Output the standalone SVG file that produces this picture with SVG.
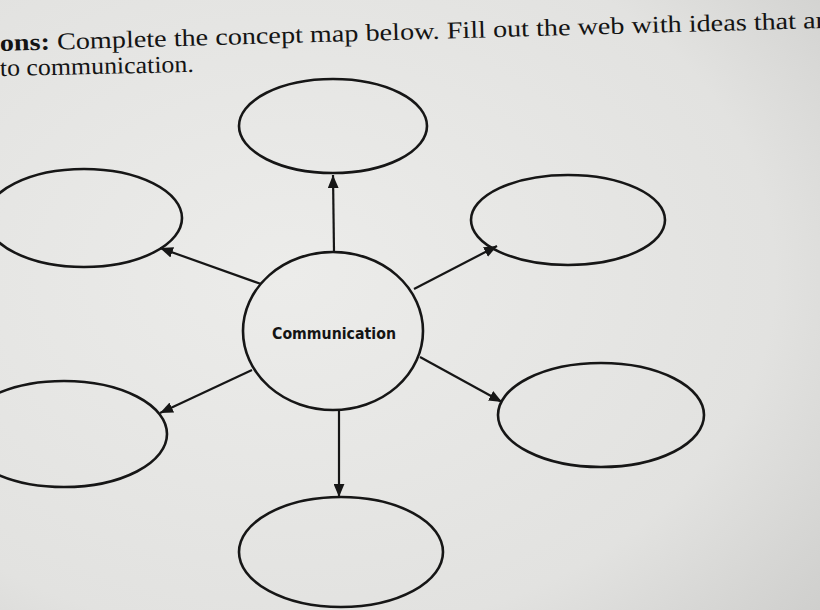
<svg xmlns="http://www.w3.org/2000/svg" width="820" height="610" viewBox="0 0 820 610">
  <defs>
    <radialGradient id="paper" cx="0.35" cy="0.45" r="0.85">
      <stop offset="0" stop-color="#ececea"/>
      <stop offset="0.7" stop-color="#e2e2e0"/>
      <stop offset="1" stop-color="#cfcfcd"/>
    </radialGradient>
    <marker id="arrow" viewBox="0 0 12 10" refX="12" refY="5" markerWidth="13" markerHeight="11" markerUnits="userSpaceOnUse" orient="auto">
      <path d="M0,0 L12,5 L0,10 Z" fill="#161616"/>
    </marker>
    <style>
      .node { fill: none; stroke: #161616; stroke-width: 2.6; }
      .conn { stroke: #161616; stroke-width: 2.2; fill: none; marker-end: url(#arrow); }
      .hdr { font-family: "Liberation Serif", "DejaVu Serif", serif; font-size: 24px; fill: #141414; }
      .lbl { font-family: "DejaVu Sans", "Liberation Sans", sans-serif; font-size: 15px; font-weight: bold; fill: #141414; }
    </style>
  </defs>

  <rect x="0" y="0" width="820" height="610" fill="url(#paper)"/>

  <g id="header">
    <text class="hdr" x="0" y="51" transform="rotate(-1.6 0 51)" textLength="838" lengthAdjust="spacingAndGlyphs"><tspan font-weight="bold">ons:</tspan> Complete the concept map below. Fill out the web with ideas that are</text>
    <text class="hdr" x="0" y="76" transform="rotate(-1.2 0 76)" textLength="194" lengthAdjust="spacingAndGlyphs">to communication.</text>
  </g>

  <g id="connectors">
    <line class="conn" x1="334" y1="252" x2="333" y2="175"/>
    <line class="conn" x1="261" y1="284" x2="160" y2="248"/>
    <line class="conn" x1="414" y1="289" x2="497" y2="246"/>
    <line class="conn" x1="420" y1="357" x2="502" y2="402"/>
    <line class="conn" x1="252" y1="370" x2="160" y2="413"/>
    <line class="conn" x1="339" y1="410" x2="339" y2="497"/>
  </g>

  <g id="center">
    <ellipse class="node" cx="333" cy="331" rx="90" ry="79"/>
    <text class="lbl" x="334" y="339" text-anchor="middle" textLength="124" lengthAdjust="spacingAndGlyphs">Communication</text>
  </g>
  <g id="top">
    <ellipse class="node" cx="333" cy="126" rx="94" ry="47"/>
  </g>
  <g id="upper-left">
    <ellipse class="node" cx="84" cy="218" rx="98" ry="49"/>
  </g>
  <g id="upper-right">
    <ellipse class="node" cx="568" cy="220" rx="97" ry="45"/>
  </g>
  <g id="lower-left">
    <ellipse class="node" cx="64" cy="434" rx="103" ry="53"/>
  </g>
  <g id="lower-right">
    <ellipse class="node" cx="601" cy="415" rx="103" ry="52"/>
  </g>
  <g id="bottom">
    <ellipse class="node" cx="341" cy="552" rx="102" ry="55"/>
  </g>
</svg>
